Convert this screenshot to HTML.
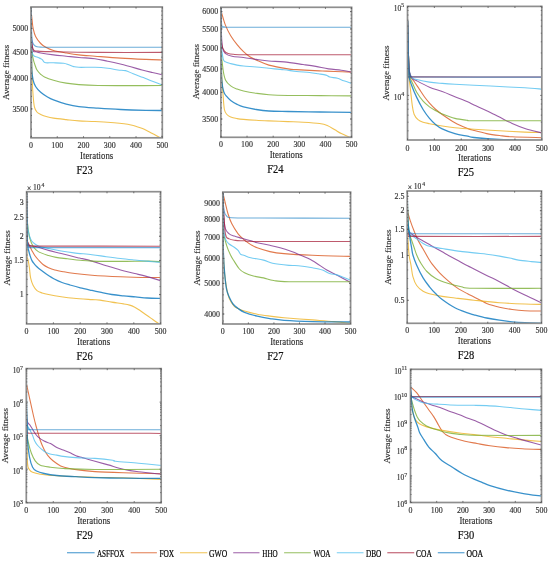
<!DOCTYPE html><html><head><meta charset="utf-8"><style>html,body{margin:0;padding:0;background:#fff;}svg{display:block;}text[fill="#333"]{stroke:#333;stroke-width:0.15px;}</style></head><body>
<svg width="550" height="561" viewBox="0 0 550 561" font-family="'Liberation Serif','Times New Roman',serif">
<rect width="550" height="561" fill="#fff"/><g>
<g><clipPath id="cF23"><rect x="31.00" y="7.00" width="131.30" height="130.80"/></clipPath><g clip-path="url(#cF23)" fill="none" stroke-width="1.1" stroke-opacity="0.78" stroke-linejoin="round" stroke-linecap="round"><path d="M31.00,6.00 C31.05,7.05 31.10,9.80 31.30,12.30 C31.50,14.80 31.90,18.35 32.20,21.00 C32.50,23.65 32.53,25.62 33.10,28.20 C33.67,30.78 34.33,33.95 35.60,36.50 C36.87,39.05 39.00,41.70 40.70,43.50 C42.40,45.30 43.67,46.13 45.80,47.30 C47.93,48.47 50.10,49.55 53.50,50.50 C56.90,51.45 61.97,52.27 66.20,53.00 C70.43,53.73 74.10,54.37 78.90,54.90 C83.70,55.43 88.07,55.67 95.00,56.20 C101.93,56.73 112.02,57.57 120.50,58.10 C128.98,58.63 138.90,59.08 145.90,59.40 C152.90,59.72 159.73,59.90 162.50,60.00" stroke="#D95319"/><path d="M31.00,6.00 C31.08,13.33 31.30,37.67 31.50,50.00 C31.70,62.33 31.93,72.42 32.20,80.00 C32.47,87.58 32.73,91.02 33.10,95.50 C33.47,99.98 33.77,104.15 34.40,106.90 C35.03,109.65 35.85,110.73 36.90,112.00 C37.95,113.27 39.00,113.70 40.70,114.50 C42.40,115.30 44.97,116.20 47.10,116.80 C49.23,117.40 50.32,117.63 53.50,118.10 C56.68,118.57 61.97,119.13 66.20,119.60 C70.43,120.07 74.10,120.58 78.90,120.90 C83.70,121.22 89.13,121.18 95.00,121.50 C100.87,121.82 109.27,122.42 114.10,122.80 C118.93,123.18 121.18,123.43 124.00,123.80 C126.82,124.17 128.83,124.52 131.00,125.00 C133.17,125.48 135.08,126.10 137.00,126.70 C138.92,127.30 140.75,127.88 142.50,128.60 C144.25,129.32 145.87,130.18 147.50,131.00 C149.13,131.82 150.72,132.67 152.30,133.50 C153.88,134.33 155.30,135.08 157.00,136.00 C158.70,136.92 161.58,138.50 162.50,139.00" stroke="#EDB120"/><path d="M31.00,6.00 C31.07,11.33 31.05,30.58 31.40,38.00 C31.75,45.42 32.40,48.22 33.10,50.50 C33.80,52.78 34.33,51.28 35.60,51.70 C36.87,52.12 37.72,52.47 40.70,53.00 C43.68,53.53 49.25,54.37 53.50,54.90 C57.75,55.43 61.97,55.77 66.20,56.20 C70.43,56.63 74.10,57.08 78.90,57.50 C83.70,57.92 90.20,58.07 95.00,58.70 C99.80,59.33 102.40,60.13 107.70,61.30 C113.00,62.47 121.07,64.25 126.80,65.70 C132.53,67.15 137.85,68.87 142.10,70.00 C146.35,71.13 148.90,71.70 152.30,72.50 C155.70,73.30 160.80,74.42 162.50,74.80" stroke="#7E2F8E"/><path d="M31.00,6.00 C31.07,12.50 31.07,36.33 31.40,45.00 C31.73,53.67 32.40,54.67 33.00,58.00 C33.60,61.33 34.33,63.00 35.00,65.00 C35.67,67.00 36.05,68.45 37.00,70.00 C37.95,71.55 39.45,73.13 40.70,74.30 C41.95,75.47 42.37,76.02 44.50,77.00 C46.63,77.98 49.88,79.18 53.50,80.20 C57.12,81.22 61.97,82.37 66.20,83.10 C70.43,83.83 73.60,84.20 78.90,84.60 C84.20,85.00 89.48,85.33 98.00,85.50 C106.52,85.67 119.25,85.60 130.00,85.60 C140.75,85.60 157.08,85.52 162.50,85.50" stroke="#77AC30"/><path d="M31.00,6.00 C31.05,12.50 30.95,36.85 31.30,45.00 C31.65,53.15 31.95,52.82 33.10,54.90 C34.25,56.98 36.93,56.87 38.20,57.50 C39.47,58.13 39.97,58.28 40.70,58.70 C41.43,59.12 42.07,59.47 42.60,60.00 C43.13,60.53 43.37,61.43 43.90,61.90 C44.43,62.37 44.20,62.65 45.80,62.80 C47.40,62.95 50.53,62.73 53.50,62.80 C56.47,62.87 61.07,62.87 63.60,63.20 C66.13,63.53 67.00,64.23 68.70,64.80 C70.40,65.37 72.10,66.18 73.80,66.60 C75.50,67.02 75.37,67.18 78.90,67.30 C82.43,67.42 90.20,67.13 95.00,67.30 C99.80,67.47 103.88,67.85 107.70,68.30 C111.52,68.75 114.93,69.62 117.90,70.00 C120.87,70.38 122.95,69.97 125.50,70.60 C128.05,71.23 130.22,72.63 133.20,73.80 C136.18,74.97 140.43,76.43 143.40,77.60 C146.37,78.77 147.82,79.57 151.00,80.80 C154.18,82.03 160.58,84.30 162.50,85.00" stroke="#4DBEEE"/><path d="M31.00,6.00 C31.07,10.83 31.05,27.80 31.40,35.00 C31.75,42.20 31.97,46.52 33.10,49.20 C34.23,51.88 34.80,50.68 38.20,51.10 C41.60,51.52 43.53,51.48 53.50,51.70 C63.47,51.92 79.83,52.28 98.00,52.40 C116.17,52.52 151.75,52.40 162.50,52.40" stroke="#A2142F" stroke-opacity="0.7"/><path d="M31.00,6.00 C31.10,10.00 31.35,23.97 31.60,30.00 C31.85,36.03 31.83,39.48 32.50,42.20 C33.17,44.92 34.23,45.48 35.60,46.30 C36.97,47.12 36.63,46.93 40.70,47.10 C44.77,47.27 39.70,47.27 60.00,47.30 C80.30,47.33 145.42,47.30 162.50,47.30" stroke="#0072BD" stroke-opacity="0.58"/><path d="M31.00,6.00 C31.08,13.33 31.37,39.33 31.50,50.00 C31.63,60.67 31.53,64.97 31.80,70.00 C32.07,75.03 32.47,77.45 33.10,80.20 C33.73,82.95 34.33,84.48 35.60,86.50 C36.87,88.52 38.78,90.60 40.70,92.30 C42.62,94.00 44.97,95.43 47.10,96.70 C49.23,97.97 50.32,98.67 53.50,99.90 C56.68,101.13 61.97,102.97 66.20,104.10 C70.43,105.23 73.60,106.02 78.90,106.70 C84.20,107.38 91.07,107.73 98.00,108.20 C104.93,108.67 112.52,109.15 120.50,109.50 C128.48,109.85 138.90,110.13 145.90,110.30 C152.90,110.47 159.73,110.47 162.50,110.50" stroke="#0072BD" stroke-width="1.3" stroke-opacity="0.78"/></g><rect x="31.00" y="7.00" width="131.30" height="130.80" fill="none" stroke="#8e8e8e" stroke-width="1.7"/><text x="31.00" y="148.25" font-size="7.9" text-anchor="middle" fill="#333">0</text><text x="57.26" y="148.25" font-size="7.9" text-anchor="middle" fill="#333">100</text><text x="83.52" y="148.25" font-size="7.9" text-anchor="middle" fill="#333">200</text><text x="109.78" y="148.25" font-size="7.9" text-anchor="middle" fill="#333">300</text><text x="136.04" y="148.25" font-size="7.9" text-anchor="middle" fill="#333">400</text><text x="162.30" y="148.25" font-size="7.9" text-anchor="middle" fill="#333">500</text><text x="28.20" y="31.00" font-size="7.9" text-anchor="end" fill="#333">5000</text><text x="28.20" y="54.78" font-size="7.9" text-anchor="end" fill="#333">4500</text><text x="28.20" y="81.36" font-size="7.9" text-anchor="end" fill="#333">4000</text><text x="28.20" y="111.50" font-size="7.9" text-anchor="end" fill="#333">3500</text><path d="M31.00,137.80v-1.6M31.00,7.00v1.6M57.26,137.80v-1.6M57.26,7.00v1.6M83.52,137.80v-1.6M83.52,7.00v1.6M109.78,137.80v-1.6M109.78,7.00v1.6M136.04,137.80v-1.6M136.04,7.00v1.6M162.30,137.80v-1.6M162.30,7.00v1.6M31.00,28.40h1.6M162.30,28.40h-1.6M31.00,52.18h1.6M162.30,52.18h-1.6M31.00,78.76h1.6M162.30,78.76h-1.6M31.00,108.90h1.6M162.30,108.90h-1.6M31.00,136.29h1M162.30,136.29h-1M31.00,129.13h1M162.30,129.13h-1M31.00,122.18h1M162.30,122.18h-1M31.00,115.44h1M162.30,115.44h-1M31.00,108.90h1M162.30,108.90h-1M31.00,102.54h1M162.30,102.54h-1M31.00,96.36h1M162.30,96.36h-1M31.00,90.34h1M162.30,90.34h-1M31.00,84.48h1M162.30,84.48h-1M31.00,78.76h1M162.30,78.76h-1M31.00,73.19h1M162.30,73.19h-1M31.00,67.75h1M162.30,67.75h-1M31.00,62.44h1M162.30,62.44h-1M31.00,57.25h1M162.30,57.25h-1M31.00,52.18h1M162.30,52.18h-1M31.00,47.22h1M162.30,47.22h-1M31.00,42.37h1M162.30,42.37h-1M31.00,37.61h1M162.30,37.61h-1M31.00,32.96h1M162.30,32.96h-1M31.00,28.40h1M162.30,28.40h-1M31.00,23.93h1M162.30,23.93h-1M31.00,19.55h1M162.30,19.55h-1M31.00,15.25h1M162.30,15.25h-1M31.00,11.03h1M162.30,11.03h-1" stroke="#555" stroke-width="0.8" fill="none"/><text x="80.10" y="158.60" font-size="9.4" textLength="33.1" lengthAdjust="spacingAndGlyphs" fill="#2a2a2a" stroke="#2a2a2a" stroke-width="0.12">Iterations</text><text transform="translate(9.00,72.30) rotate(-90)" font-size="8.95" text-anchor="middle" fill="#333">Average fitness</text><text x="76.45" y="173.60" font-size="11.9" textLength="16.3" lengthAdjust="spacingAndGlyphs" fill="#111" stroke="#111" stroke-width="0.2">F23</text></g>
<g><clipPath id="cF24"><rect x="220.90" y="7.30" width="130.70" height="130.00"/></clipPath><g clip-path="url(#cF24)" fill="none" stroke-width="1.1" stroke-opacity="0.78" stroke-linejoin="round" stroke-linecap="round"><path d="M220.90,7.00 C220.95,7.67 220.83,9.17 221.20,11.00 C221.57,12.83 222.37,15.57 223.10,18.00 C223.83,20.43 224.33,22.63 225.60,25.60 C226.87,28.57 228.78,32.62 230.70,35.80 C232.62,38.98 234.97,42.05 237.10,44.70 C239.23,47.35 241.38,49.68 243.50,51.70 C245.62,53.72 247.68,55.42 249.80,56.80 C251.92,58.18 253.02,58.62 256.20,60.00 C259.38,61.38 263.60,63.62 268.90,65.10 C274.20,66.58 283.37,68.15 288.00,68.90 C292.63,69.65 293.12,69.35 296.70,69.60 C300.28,69.85 305.25,70.17 309.50,70.40 C313.75,70.63 317.97,70.82 322.20,71.00 C326.43,71.18 329.97,71.32 334.90,71.50 C339.83,71.68 348.98,72.00 351.80,72.10" stroke="#D95319"/><path d="M220.90,7.00 C220.95,15.83 221.05,48.43 221.20,60.00 C221.35,71.57 221.48,70.48 221.80,76.40 C222.12,82.32 222.67,89.98 223.10,95.50 C223.53,101.02 223.77,106.33 224.40,109.50 C225.03,112.67 225.85,113.23 226.90,114.50 C227.95,115.77 229.00,116.42 230.70,117.10 C232.40,117.78 234.97,118.22 237.10,118.60 C239.23,118.98 240.32,119.12 243.50,119.40 C246.68,119.68 251.97,120.05 256.20,120.30 C260.43,120.55 263.60,120.68 268.90,120.90 C274.20,121.12 282.30,121.38 288.00,121.60 C293.70,121.82 297.83,121.88 303.10,122.20 C308.37,122.52 315.57,122.97 319.60,123.50 C323.63,124.03 324.75,124.35 327.30,125.40 C329.85,126.45 332.57,128.43 334.90,129.80 C337.23,131.17 338.75,132.32 341.30,133.60 C343.85,134.88 348.42,136.68 350.20,137.50 C351.98,138.32 351.70,138.33 352.00,138.50" stroke="#EDB120"/><path d="M220.90,7.00 C220.97,10.83 221.03,23.17 221.30,30.00 C221.57,36.83 221.78,44.07 222.50,48.00 C223.22,51.93 224.02,52.23 225.60,53.60 C227.18,54.97 229.02,55.55 232.00,56.20 C234.98,56.85 239.47,56.97 243.50,57.50 C247.53,58.03 251.97,58.82 256.20,59.40 C260.43,59.98 264.27,60.58 268.90,61.00 C273.53,61.42 278.30,61.32 284.00,61.90 C289.70,62.48 297.80,63.75 303.10,64.50 C308.40,65.25 311.57,65.67 315.80,66.40 C320.03,67.13 324.25,68.27 328.50,68.90 C332.75,69.53 337.42,69.67 341.30,70.20 C345.18,70.73 350.05,71.78 351.80,72.10" stroke="#7E2F8E"/><path d="M220.90,7.00 C220.97,14.17 220.93,39.50 221.30,50.00 C221.67,60.50 222.38,64.97 223.10,70.00 C223.82,75.03 224.33,77.55 225.60,80.20 C226.87,82.85 228.78,84.42 230.70,85.90 C232.62,87.38 234.97,88.25 237.10,89.10 C239.23,89.95 240.32,90.30 243.50,91.00 C246.68,91.70 251.97,92.67 256.20,93.30 C260.43,93.93 263.60,94.43 268.90,94.80 C274.20,95.17 279.48,95.37 288.00,95.50 C296.52,95.63 309.37,95.53 320.00,95.60 C330.63,95.67 346.50,95.85 351.80,95.90" stroke="#77AC30"/><path d="M220.90,7.00 C220.95,12.87 220.83,33.58 221.20,42.20 C221.57,50.82 222.37,55.42 223.10,58.70 C223.83,61.98 224.33,61.08 225.60,61.90 C226.87,62.72 228.78,63.07 230.70,63.60 C232.62,64.13 234.97,64.70 237.10,65.10 C239.23,65.50 240.32,65.68 243.50,66.00 C246.68,66.32 251.97,66.62 256.20,67.00 C260.43,67.38 264.27,67.83 268.90,68.30 C273.53,68.77 279.37,69.27 284.00,69.80 C288.63,70.33 292.45,71.05 296.70,71.50 C300.95,71.95 305.88,72.12 309.50,72.50 C313.12,72.88 315.65,73.37 318.40,73.80 C321.15,74.23 324.10,74.57 326.00,75.10 C327.90,75.63 327.88,76.47 329.80,77.00 C331.72,77.53 335.17,77.67 337.50,78.30 C339.83,78.93 341.42,79.95 343.80,80.80 C346.18,81.65 350.47,82.97 351.80,83.40" stroke="#4DBEEE"/><path d="M220.90,7.00 C220.97,10.83 221.15,23.72 221.30,30.00 C221.45,36.28 221.28,41.18 221.80,44.70 C222.32,48.22 223.33,49.62 224.40,51.10 C225.47,52.58 226.72,53.07 228.20,53.60 C229.68,54.13 229.67,54.12 233.30,54.30 C236.93,54.48 230.25,54.63 250.00,54.70 C269.75,54.77 334.83,54.70 351.80,54.70" stroke="#A2142F" stroke-opacity="0.7"/><path d="M220.90,7.00 C220.97,8.33 221.15,11.90 221.30,15.00 C221.45,18.10 221.28,23.62 221.80,25.60 C222.32,27.58 223.03,26.63 224.40,26.90 C225.77,27.17 208.77,27.13 230.00,27.20 C251.23,27.27 331.50,27.28 351.80,27.30" stroke="#0072BD" stroke-opacity="0.58"/><path d="M220.90,7.00 C220.95,15.83 221.05,47.80 221.20,60.00 C221.35,72.20 221.38,74.93 221.80,80.20 C222.22,85.47 222.85,88.85 223.70,91.60 C224.55,94.35 225.73,95.22 226.90,96.70 C228.07,98.18 229.00,99.22 230.70,100.50 C232.40,101.78 234.97,103.33 237.10,104.40 C239.23,105.47 240.32,106.05 243.50,106.90 C246.68,107.75 251.97,108.82 256.20,109.50 C260.43,110.18 263.60,110.67 268.90,111.00 C274.20,111.33 279.48,111.33 288.00,111.50 C296.52,111.67 309.37,111.87 320.00,112.00 C330.63,112.13 346.50,112.25 351.80,112.30" stroke="#0072BD" stroke-width="1.3" stroke-opacity="0.78"/></g><rect x="220.90" y="7.30" width="130.70" height="130.00" fill="none" stroke="#8e8e8e" stroke-width="1.7"/><text x="220.90" y="147.05" font-size="7.9" text-anchor="middle" fill="#333">0</text><text x="247.04" y="147.05" font-size="7.9" text-anchor="middle" fill="#333">100</text><text x="273.18" y="147.05" font-size="7.9" text-anchor="middle" fill="#333">200</text><text x="299.32" y="147.05" font-size="7.9" text-anchor="middle" fill="#333">300</text><text x="325.46" y="147.05" font-size="7.9" text-anchor="middle" fill="#333">400</text><text x="351.60" y="147.05" font-size="7.9" text-anchor="middle" fill="#333">500</text><text x="218.10" y="14.20" font-size="7.9" text-anchor="end" fill="#333">6000</text><text x="218.10" y="31.54" font-size="7.9" text-anchor="end" fill="#333">5500</text><text x="218.10" y="50.53" font-size="7.9" text-anchor="end" fill="#333">5000</text><text x="218.10" y="71.53" font-size="7.9" text-anchor="end" fill="#333">4500</text><text x="218.10" y="95.00" font-size="7.9" text-anchor="end" fill="#333">4000</text><text x="218.10" y="121.61" font-size="7.9" text-anchor="end" fill="#333">3500</text><path d="M220.90,137.30v-1.6M220.90,7.30v1.6M247.04,137.30v-1.6M247.04,7.30v1.6M273.18,137.30v-1.6M273.18,7.30v1.6M299.32,137.30v-1.6M299.32,7.30v1.6M325.46,137.30v-1.6M325.46,7.30v1.6M351.60,137.30v-1.6M351.60,7.30v1.6M220.90,11.60h1.6M351.60,11.60h-1.6M220.90,28.94h1.6M351.60,28.94h-1.6M220.90,47.93h1.6M351.60,47.93h-1.6M220.90,68.93h1.6M351.60,68.93h-1.6M220.90,92.40h1.6M351.60,92.40h-1.6M220.90,119.01h1.6M351.60,119.01h-1.6M220.90,136.87h1M351.60,136.87h-1M220.90,130.74h1M351.60,130.74h-1M220.90,124.79h1M351.60,124.79h-1M220.90,119.01h1M351.60,119.01h-1M220.90,113.40h1M351.60,113.40h-1M220.90,107.94h1M351.60,107.94h-1M220.90,102.62h1M351.60,102.62h-1M220.90,97.45h1M351.60,97.45h-1M220.90,92.40h1M351.60,92.40h-1M220.90,87.48h1M351.60,87.48h-1M220.90,82.68h1M351.60,82.68h-1M220.90,77.99h1M351.60,77.99h-1M220.90,73.41h1M351.60,73.41h-1M220.90,68.93h1M351.60,68.93h-1M220.90,64.55h1M351.60,64.55h-1M220.90,60.26h1M351.60,60.26h-1M220.90,56.07h1M351.60,56.07h-1M220.90,51.96h1M351.60,51.96h-1M220.90,47.93h1M351.60,47.93h-1M220.90,43.99h1M351.60,43.99h-1M220.90,40.12h1M351.60,40.12h-1M220.90,36.32h1M351.60,36.32h-1M220.90,32.60h1M351.60,32.60h-1M220.90,28.94h1M351.60,28.94h-1M220.90,25.35h1M351.60,25.35h-1M220.90,21.82h1M351.60,21.82h-1M220.90,18.36h1M351.60,18.36h-1M220.90,14.95h1M351.60,14.95h-1M220.90,11.60h1M351.60,11.60h-1M220.90,8.31h1M351.60,8.31h-1" stroke="#555" stroke-width="0.8" fill="none"/><text x="269.70" y="157.80" font-size="9.4" textLength="33.1" lengthAdjust="spacingAndGlyphs" fill="#2a2a2a" stroke="#2a2a2a" stroke-width="0.12">Iterations</text><text transform="translate(199.00,71.60) rotate(-90)" font-size="8.95" text-anchor="middle" fill="#333">Average fitness</text><text x="267.15" y="172.70" font-size="11.9" textLength="16.3" lengthAdjust="spacingAndGlyphs" fill="#111" stroke="#111" stroke-width="0.2">F24</text></g>
<g><clipPath id="cF25"><rect x="407.50" y="6.40" width="134.30" height="133.60"/></clipPath><g clip-path="url(#cF25)" fill="none" stroke-width="1.1" stroke-opacity="0.78" stroke-linejoin="round" stroke-linecap="round"><path d="M407.60,21.00 C407.72,25.83 408.03,41.83 408.30,50.00 C408.57,58.17 408.85,65.60 409.20,70.00 C409.55,74.40 409.57,74.48 410.40,76.40 C411.23,78.32 412.72,79.38 414.20,81.50 C415.68,83.62 417.60,86.57 419.30,89.10 C421.00,91.63 422.70,94.37 424.40,96.70 C426.10,99.03 427.60,100.97 429.50,103.10 C431.40,105.23 433.68,107.60 435.80,109.50 C437.92,111.40 439.02,112.28 442.20,114.50 C445.38,116.72 450.67,120.47 454.90,122.80 C459.13,125.13 464.42,127.22 467.60,128.50 C470.78,129.78 470.82,129.65 474.00,130.50 C477.18,131.35 482.45,132.77 486.70,133.60 C490.95,134.43 495.25,134.97 499.50,135.50 C503.75,136.03 505.12,136.43 512.20,136.80 C519.28,137.17 537.03,137.55 542.00,137.70" stroke="#D95319"/><path d="M407.60,21.00 C407.68,25.83 407.95,41.42 408.10,50.00 C408.25,58.58 408.12,65.98 408.50,72.50 C408.88,79.02 409.77,83.58 410.40,89.10 C411.03,94.62 411.67,101.37 412.30,105.60 C412.93,109.83 413.25,112.17 414.20,114.50 C415.15,116.83 416.52,118.32 418.00,119.60 C419.48,120.88 421.18,121.52 423.10,122.20 C425.02,122.88 426.32,123.07 429.50,123.70 C432.68,124.33 437.97,125.33 442.20,126.00 C446.43,126.67 449.60,127.17 454.90,127.70 C460.20,128.23 466.57,128.68 474.00,129.20 C481.43,129.72 491.02,130.32 499.50,130.80 C507.98,131.28 517.82,131.80 524.90,132.10 C531.98,132.40 539.15,132.52 542.00,132.60" stroke="#EDB120"/><path d="M407.60,21.00 C407.72,25.83 408.03,41.83 408.30,50.00 C408.57,58.17 408.65,65.40 409.20,70.00 C409.75,74.60 410.35,75.80 411.60,77.60 C412.85,79.40 413.72,79.20 416.70,80.80 C419.68,82.40 425.25,85.40 429.50,87.20 C433.75,89.00 437.97,90.02 442.20,91.60 C446.43,93.18 450.67,95.00 454.90,96.70 C459.13,98.40 464.42,100.42 467.60,101.80 C470.78,103.18 470.82,103.52 474.00,105.00 C477.18,106.48 482.45,108.68 486.70,110.70 C490.95,112.72 495.25,114.97 499.50,117.10 C503.75,119.23 507.97,121.60 512.20,123.50 C516.43,125.40 519.93,126.92 524.90,128.50 C529.87,130.08 539.15,132.25 542.00,133.00" stroke="#7E2F8E"/><path d="M407.60,21.00 C407.72,25.83 407.95,40.98 408.30,50.00 C408.65,59.02 408.93,69.43 409.70,75.10 C410.47,80.77 411.73,81.13 412.90,84.00 C414.07,86.87 415.00,89.43 416.70,92.30 C418.40,95.17 420.97,98.77 423.10,101.20 C425.23,103.63 427.38,105.32 429.50,106.90 C431.62,108.48 433.68,109.53 435.80,110.70 C437.92,111.87 439.02,112.62 442.20,113.90 C445.38,115.18 450.67,117.33 454.90,118.40 C459.13,119.47 464.42,119.92 467.60,120.30 C470.78,120.68 461.60,120.63 474.00,120.70 C486.40,120.77 530.67,120.70 542.00,120.70" stroke="#77AC30"/><path d="M407.60,21.00 C407.72,25.83 408.03,41.83 408.30,50.00 C408.57,58.17 408.65,65.40 409.20,70.00 C409.75,74.60 410.35,76.02 411.60,77.60 C412.85,79.18 413.72,78.75 416.70,79.50 C419.68,80.25 425.25,81.45 429.50,82.10 C433.75,82.75 437.97,83.03 442.20,83.40 C446.43,83.77 449.60,84.00 454.90,84.30 C460.20,84.60 466.57,84.83 474.00,85.20 C481.43,85.57 491.02,86.07 499.50,86.50 C507.98,86.93 517.82,87.37 524.90,87.80 C531.98,88.23 539.15,88.88 542.00,89.10" stroke="#4DBEEE"/><path d="M407.60,21.00 C407.72,25.83 408.03,41.83 408.30,50.00 C408.57,58.17 408.83,65.63 409.20,70.00 C409.57,74.37 409.70,75.05 410.50,76.20 C411.30,77.35 392.08,76.77 414.00,76.90 C435.92,77.03 520.67,76.98 542.00,77.00" stroke="#A2142F" stroke-opacity="0.7"/><path d="M407.60,21.00 C407.72,25.83 408.03,41.83 408.30,50.00 C408.57,58.17 408.83,65.60 409.20,70.00 C409.57,74.40 409.70,75.23 410.50,76.40 C411.30,77.57 392.08,76.88 414.00,77.00 C435.92,77.12 520.67,77.08 542.00,77.10" stroke="#0072BD" stroke-opacity="0.58"/><path d="M407.60,21.00 C407.68,25.83 407.95,41.20 408.10,50.00 C408.25,58.80 407.92,67.92 408.50,73.80 C409.08,79.68 410.23,81.37 411.60,85.30 C412.97,89.23 414.78,93.37 416.70,97.40 C418.62,101.43 420.97,106.00 423.10,109.50 C425.23,113.00 427.38,115.87 429.50,118.40 C431.62,120.93 433.68,122.97 435.80,124.70 C437.92,126.43 439.02,127.32 442.20,128.80 C445.38,130.28 450.67,132.37 454.90,133.60 C459.13,134.83 464.42,135.55 467.60,136.20 C470.78,136.85 468.68,136.97 474.00,137.50 C479.32,138.03 488.17,138.90 499.50,139.40 C510.83,139.90 534.92,140.32 542.00,140.50" stroke="#0072BD" stroke-width="1.3" stroke-opacity="0.78"/></g><rect x="407.50" y="6.40" width="134.30" height="133.60" fill="none" stroke="#8e8e8e" stroke-width="1.7"/><text x="407.50" y="150.55" font-size="7.9" text-anchor="middle" fill="#333">0</text><text x="434.36" y="150.55" font-size="7.9" text-anchor="middle" fill="#333">100</text><text x="461.22" y="150.55" font-size="7.9" text-anchor="middle" fill="#333">200</text><text x="488.08" y="150.55" font-size="7.9" text-anchor="middle" fill="#333">300</text><text x="514.94" y="150.55" font-size="7.9" text-anchor="middle" fill="#333">400</text><text x="541.80" y="150.55" font-size="7.9" text-anchor="middle" fill="#333">500</text><text x="404.20" y="10.80" font-size="7.4" text-anchor="end" fill="#333">10<tspan font-size="5.9" dy="-3.4">5</tspan></text><text x="404.20" y="99.80" font-size="7.4" text-anchor="end" fill="#333">10<tspan font-size="5.9" dy="-3.4">4</tspan></text><path d="M407.50,140.00v-1.6M407.50,6.40v1.6M434.36,140.00v-1.6M434.36,6.40v1.6M461.22,140.00v-1.6M461.22,6.40v1.6M488.08,140.00v-1.6M488.08,6.40v1.6M514.94,140.00v-1.6M514.94,6.40v1.6M541.80,140.00v-1.6M541.80,6.40v1.6M407.50,6.40h1.6M541.80,6.40h-1.6M407.50,95.40h1.6M541.80,95.40h-1.6M407.50,130.82h1M541.80,130.82h-1M407.50,122.19h1M541.80,122.19h-1M407.50,115.14h1M541.80,115.14h-1M407.50,109.19h1M541.80,109.19h-1M407.50,104.02h1M541.80,104.02h-1M407.50,99.47h1M541.80,99.47h-1M407.50,68.61h1M541.80,68.61h-1M407.50,52.94h1M541.80,52.94h-1M407.50,41.82h1M541.80,41.82h-1M407.50,33.19h1M541.80,33.19h-1M407.50,26.14h1M541.80,26.14h-1M407.50,20.19h1M541.80,20.19h-1M407.50,15.02h1M541.80,15.02h-1M407.50,10.47h1M541.80,10.47h-1" stroke="#555" stroke-width="0.8" fill="none"/><text x="458.10" y="161.00" font-size="9.4" textLength="33.1" lengthAdjust="spacingAndGlyphs" fill="#2a2a2a" stroke="#2a2a2a" stroke-width="0.12">Iterations</text><text transform="translate(389.30,73.00) rotate(-90)" font-size="8.95" text-anchor="middle" fill="#333">Average fitness</text><text x="457.75" y="175.90" font-size="11.9" textLength="16.3" lengthAdjust="spacingAndGlyphs" fill="#111" stroke="#111" stroke-width="0.2">F25</text></g>
<g><clipPath id="cF26"><rect x="26.60" y="191.70" width="134.00" height="132.20"/></clipPath><g clip-path="url(#cF26)" fill="none" stroke-width="1.1" stroke-opacity="0.78" stroke-linejoin="round" stroke-linecap="round"><path d="M26.60,191.00 C26.62,196.67 26.62,216.98 26.70,225.00 C26.78,233.02 26.80,236.00 27.10,239.10 C27.40,242.20 27.97,242.23 28.50,243.60 C29.03,244.97 29.70,246.08 30.30,247.30 C30.90,248.52 31.35,249.53 32.10,250.90 C32.85,252.27 33.73,253.98 34.80,255.50 C35.87,257.02 37.13,258.50 38.50,260.00 C39.87,261.50 41.33,263.22 43.00,264.50 C44.67,265.78 46.53,266.78 48.50,267.70 C50.47,268.62 52.23,269.32 54.80,270.00 C57.37,270.68 60.87,271.27 63.90,271.80 C66.93,272.33 68.32,272.63 73.00,273.20 C77.68,273.77 84.08,274.62 92.00,275.20 C99.92,275.78 111.00,276.32 120.50,276.70 C130.00,277.08 142.25,277.37 149.00,277.50 C155.75,277.63 159.00,277.50 161.00,277.50" stroke="#D95319"/><path d="M26.60,191.00 C26.63,201.10 26.65,240.43 26.80,251.60 C26.95,262.77 27.28,256.60 27.50,258.00 C27.72,259.40 27.78,258.38 28.10,260.00 C28.42,261.62 28.98,264.72 29.40,267.70 C29.82,270.68 29.97,274.93 30.60,277.90 C31.23,280.87 32.13,283.38 33.20,285.50 C34.27,287.62 35.52,289.37 37.00,290.60 C38.48,291.83 40.18,292.25 42.10,292.90 C44.02,293.55 45.32,293.87 48.50,294.50 C51.68,295.13 56.97,296.07 61.20,296.70 C65.43,297.33 68.77,297.82 73.90,298.30 C79.03,298.78 87.65,299.30 92.00,299.60 C96.35,299.90 96.70,299.68 100.00,300.10 C103.30,300.52 107.87,301.47 111.80,302.10 C115.73,302.73 120.63,303.40 123.60,303.90 C126.57,304.40 127.82,304.60 129.60,305.10 C131.38,305.60 132.73,306.12 134.30,306.90 C135.87,307.68 137.23,308.62 139.00,309.80 C140.77,310.98 142.93,312.62 144.90,314.00 C146.87,315.38 148.83,316.73 150.80,318.10 C152.77,319.47 155.03,321.08 156.70,322.20 C158.37,323.32 160.12,324.37 160.80,324.80" stroke="#EDB120"/><path d="M26.60,191.00 C26.67,197.50 26.75,221.17 27.00,230.00 C27.25,238.83 26.65,241.25 28.10,244.00 C29.55,246.75 32.30,245.43 35.70,246.50 C39.10,247.57 44.25,249.23 48.50,250.40 C52.75,251.57 56.33,252.28 61.20,253.50 C66.07,254.72 74.52,256.92 77.70,257.70 C80.88,258.48 77.92,257.63 80.30,258.20 C82.68,258.77 87.67,259.85 92.00,261.10 C96.33,262.35 101.55,264.22 106.30,265.70 C111.05,267.18 115.75,268.70 120.50,270.00 C125.25,271.30 130.05,272.32 134.80,273.50 C139.55,274.68 144.63,275.88 149.00,277.10 C153.37,278.32 159.00,280.18 161.00,280.80" stroke="#7E2F8E"/><path d="M26.60,191.00 C26.63,194.75 26.55,207.22 26.80,213.50 C27.05,219.78 27.57,224.47 28.10,228.70 C28.63,232.93 29.15,235.93 30.00,238.90 C30.85,241.87 31.82,244.38 33.20,246.50 C34.58,248.62 35.75,250.10 38.30,251.60 C40.85,253.10 45.53,254.53 48.50,255.50 C51.47,256.47 52.93,256.85 56.10,257.40 C59.27,257.95 63.47,258.32 67.50,258.80 C71.53,259.28 76.22,259.92 80.30,260.30 C84.38,260.68 85.30,260.92 92.00,261.10 C98.70,261.28 111.00,261.40 120.50,261.40 C130.00,261.40 142.25,261.03 149.00,261.10 C155.75,261.17 159.00,261.68 161.00,261.80" stroke="#77AC30"/><path d="M26.60,191.00 C26.63,194.32 26.55,204.40 26.80,210.90 C27.05,217.40 27.47,225.33 28.10,230.00 C28.73,234.67 29.75,236.78 30.60,238.90 C31.45,241.02 31.92,241.53 33.20,242.70 C34.48,243.87 35.75,244.93 38.30,245.90 C40.85,246.87 44.68,247.65 48.50,248.50 C52.32,249.35 56.97,250.27 61.20,251.00 C65.43,251.73 68.77,252.28 73.90,252.90 C79.03,253.52 86.60,254.07 92.00,254.70 C97.40,255.33 101.55,256.07 106.30,256.70 C111.05,257.33 115.75,257.95 120.50,258.50 C125.25,259.05 130.05,259.52 134.80,260.00 C139.55,260.48 144.63,261.00 149.00,261.40 C153.37,261.80 159.00,262.23 161.00,262.40" stroke="#4DBEEE"/><path d="M26.60,191.00 C26.65,197.50 26.70,221.17 26.90,230.00 C27.10,238.83 27.28,241.37 27.80,244.00 C28.32,246.63 27.97,245.45 30.00,245.80 C32.03,246.15 18.17,246.03 40.00,246.10 C61.83,246.17 140.83,246.18 161.00,246.20" stroke="#A2142F" stroke-opacity="0.7"/><path d="M26.60,191.00 C26.67,198.33 26.68,225.83 27.00,235.00 C27.32,244.17 27.83,243.93 28.50,246.00 C29.17,248.07 29.08,247.13 31.00,247.40 C32.92,247.67 18.33,247.57 40.00,247.60 C61.67,247.63 140.83,247.60 161.00,247.60" stroke="#0072BD" stroke-opacity="0.58"/><path d="M26.60,191.00 C26.65,197.50 26.75,220.92 26.90,230.00 C27.05,239.08 27.23,242.17 27.50,245.50 C27.77,248.83 28.03,248.18 28.50,250.00 C28.97,251.82 29.70,254.58 30.30,256.40 C30.90,258.22 31.43,259.65 32.10,260.90 C32.77,262.15 33.55,262.98 34.30,263.90 C35.05,264.82 35.45,265.33 36.60,266.40 C37.75,267.47 39.53,269.00 41.20,270.30 C42.87,271.60 44.33,272.70 46.60,274.20 C48.87,275.70 52.23,277.92 54.80,279.30 C57.37,280.68 59.47,281.55 62.00,282.50 C64.53,283.45 66.95,284.12 70.00,285.00 C73.05,285.88 76.63,286.90 80.30,287.80 C83.97,288.70 88.72,289.68 92.00,290.40 C95.28,291.12 96.70,291.42 100.00,292.10 C103.30,292.78 107.87,293.87 111.80,294.50 C115.73,295.13 119.65,295.50 123.60,295.90 C127.55,296.30 131.55,296.55 135.50,296.90 C139.45,297.25 143.05,297.75 147.30,298.00 C151.55,298.25 158.72,298.33 161.00,298.40" stroke="#0072BD" stroke-width="1.3" stroke-opacity="0.78"/></g><rect x="26.60" y="191.70" width="134.00" height="132.20" fill="none" stroke="#8e8e8e" stroke-width="1.7"/><text x="26.60" y="333.95" font-size="7.9" text-anchor="middle" fill="#333">0</text><text x="53.40" y="333.95" font-size="7.9" text-anchor="middle" fill="#333">100</text><text x="80.20" y="333.95" font-size="7.9" text-anchor="middle" fill="#333">200</text><text x="107.00" y="333.95" font-size="7.9" text-anchor="middle" fill="#333">300</text><text x="133.80" y="333.95" font-size="7.9" text-anchor="middle" fill="#333">400</text><text x="160.60" y="333.95" font-size="7.9" text-anchor="middle" fill="#333">500</text><text x="23.80" y="204.70" font-size="7.9" text-anchor="end" fill="#333">3</text><text x="23.80" y="220.05" font-size="7.9" text-anchor="end" fill="#333">2.5</text><text x="23.80" y="238.84" font-size="7.9" text-anchor="end" fill="#333">2</text><text x="23.80" y="263.06" font-size="7.9" text-anchor="end" fill="#333">1.5</text><text x="23.80" y="297.20" font-size="7.9" text-anchor="end" fill="#333">1</text><path d="M26.60,323.90v-1.6M26.60,191.70v1.6M53.40,323.90v-1.6M53.40,191.70v1.6M80.20,323.90v-1.6M80.20,191.70v1.6M107.00,323.90v-1.6M107.00,191.70v1.6M133.80,323.90v-1.6M133.80,191.70v1.6M160.60,323.90v-1.6M160.60,191.70v1.6M26.60,202.10h1.6M160.60,202.10h-1.6M26.60,217.45h1.6M160.60,217.45h-1.6M26.60,236.24h1.6M160.60,236.24h-1.6M26.60,260.46h1.6M160.60,260.46h-1.6M26.60,294.60h1.6M160.60,294.60h-1.6M26.60,313.39h1M160.60,313.39h-1M26.60,303.47h1M160.60,303.47h-1M26.60,294.60h1M160.60,294.60h-1M26.60,286.58h1M160.60,286.58h-1M26.60,279.25h1M160.60,279.25h-1M26.60,272.51h1M160.60,272.51h-1M26.60,266.27h1M160.60,266.27h-1M26.60,260.46h1M160.60,260.46h-1M26.60,255.03h1M160.60,255.03h-1M26.60,249.92h1M160.60,249.92h-1M26.60,245.11h1M160.60,245.11h-1M26.60,240.56h1M160.60,240.56h-1M26.60,236.24h1M160.60,236.24h-1M26.60,232.13h1M160.60,232.13h-1M26.60,228.21h1M160.60,228.21h-1M26.60,224.47h1M160.60,224.47h-1M26.60,220.89h1M160.60,220.89h-1M26.60,217.45h1M160.60,217.45h-1M26.60,214.15h1M160.60,214.15h-1M26.60,210.97h1M160.60,210.97h-1M26.60,207.91h1M160.60,207.91h-1M26.60,204.95h1M160.60,204.95h-1M26.60,202.10h1M160.60,202.10h-1M26.60,199.34h1M160.60,199.34h-1M26.60,196.67h1M160.60,196.67h-1M26.60,194.08h1M160.60,194.08h-1" stroke="#555" stroke-width="0.8" fill="none"/><text x="26.90" y="191.00" font-size="7.4" fill="#333">&#215;</text><text x="32.90" y="189.90" font-size="7.6" fill="#333">10</text><text x="41.40" y="186.80" font-size="5.6" fill="#333">4</text><text x="77.05" y="344.60" font-size="9.4" textLength="33.1" lengthAdjust="spacingAndGlyphs" fill="#2a2a2a" stroke="#2a2a2a" stroke-width="0.12">Iterations</text><text transform="translate(10.00,257.90) rotate(-90)" font-size="8.95" text-anchor="middle" fill="#333">Average fitness</text><text x="76.55" y="359.50" font-size="11.9" textLength="16.3" lengthAdjust="spacingAndGlyphs" fill="#111" stroke="#111" stroke-width="0.2">F26</text></g>
<g><clipPath id="cF27"><rect x="222.80" y="192.10" width="127.80" height="131.90"/></clipPath><g clip-path="url(#cF27)" fill="none" stroke-width="1.1" stroke-opacity="0.78" stroke-linejoin="round" stroke-linecap="round"><path d="M222.80,192.00 C222.82,192.18 222.47,191.22 222.90,193.10 C223.33,194.98 224.57,199.90 225.40,203.30 C226.23,206.70 226.85,210.12 227.90,213.50 C228.95,216.88 230.00,220.22 231.70,223.60 C233.40,226.98 235.97,231.03 238.10,233.80 C240.23,236.57 242.38,238.40 244.50,240.20 C246.62,242.00 248.68,243.33 250.80,244.60 C252.92,245.87 254.02,246.63 257.20,247.80 C260.38,248.97 265.43,250.63 269.90,251.60 C274.37,252.57 276.90,252.98 284.00,253.60 C291.10,254.22 301.33,254.83 312.50,255.30 C323.67,255.77 344.58,256.22 351.00,256.40" stroke="#D95319"/><path d="M222.80,192.00 C222.87,198.33 223.08,219.50 223.20,230.00 C223.32,240.50 223.25,247.65 223.50,255.00 C223.75,262.35 224.18,268.58 224.70,274.10 C225.22,279.62 225.85,284.07 226.60,288.10 C227.35,292.13 227.92,295.23 229.20,298.30 C230.48,301.37 232.82,304.80 234.30,306.50 C235.78,308.20 236.40,307.75 238.10,308.50 C239.80,309.25 241.32,310.05 244.50,311.00 C247.68,311.95 252.97,313.35 257.20,314.20 C261.43,315.05 265.43,315.52 269.90,316.10 C274.37,316.68 276.90,317.07 284.00,317.70 C291.10,318.33 304.18,319.25 312.50,319.90 C320.82,320.55 327.48,321.00 333.90,321.60 C340.32,322.20 348.15,323.18 351.00,323.50" stroke="#EDB120"/><path d="M222.80,192.00 C222.92,195.58 223.07,207.38 223.50,213.50 C223.93,219.62 224.45,225.32 225.40,228.70 C226.35,232.08 227.72,232.57 229.20,233.80 C230.68,235.03 232.18,235.35 234.30,236.10 C236.42,236.85 239.15,237.52 241.90,238.30 C244.65,239.08 248.25,240.07 250.80,240.80 C253.35,241.53 254.02,241.95 257.20,242.70 C260.38,243.45 266.08,244.45 269.90,245.30 C273.72,246.15 276.48,246.75 280.10,247.80 C283.72,248.85 288.57,250.52 291.60,251.60 C294.63,252.68 294.82,252.78 298.30,254.30 C301.78,255.82 307.75,258.08 312.50,260.70 C317.25,263.32 322.52,267.50 326.80,270.00 C331.08,272.50 334.17,273.57 338.20,275.70 C342.23,277.83 348.87,281.62 351.00,282.80" stroke="#7E2F8E"/><path d="M222.80,192.00 C222.87,195.83 223.08,208.25 223.20,215.00 C223.32,221.75 222.93,227.45 223.50,232.50 C224.07,237.55 225.43,241.55 226.60,245.30 C227.77,249.05 229.22,252.32 230.50,255.00 C231.78,257.68 232.82,259.07 234.30,261.40 C235.78,263.73 237.70,267.10 239.40,269.00 C241.10,270.90 242.17,271.63 244.50,272.80 C246.83,273.97 250.23,275.15 253.40,276.00 C256.57,276.85 260.12,277.15 263.50,277.90 C266.88,278.65 269.45,279.87 273.70,280.50 C277.95,281.13 276.12,281.48 289.00,281.70 C301.88,281.92 340.67,281.78 351.00,281.80" stroke="#77AC30"/><path d="M222.80,192.00 C222.87,195.00 223.08,204.30 223.20,210.00 C223.32,215.70 223.13,221.38 223.50,226.20 C223.87,231.02 224.45,235.93 225.40,238.90 C226.35,241.87 227.72,242.62 229.20,244.00 C230.68,245.38 232.82,246.13 234.30,247.20 C235.78,248.27 237.05,249.23 238.10,250.40 C239.15,251.57 239.53,253.35 240.60,254.20 C241.67,255.05 242.80,254.90 244.50,255.50 C246.20,256.10 247.63,257.03 250.80,257.80 C253.97,258.57 259.88,259.18 263.50,260.10 C267.12,261.02 268.25,262.42 272.50,263.30 C276.75,264.18 284.70,265.00 289.00,265.40 C293.30,265.80 294.38,265.30 298.30,265.70 C302.22,266.10 308.47,267.08 312.50,267.80 C316.53,268.52 319.65,269.05 322.50,270.00 C325.35,270.95 327.22,272.68 329.60,273.50 C331.98,274.32 334.42,274.23 336.80,274.90 C339.18,275.57 341.53,276.60 343.90,277.50 C346.27,278.40 349.82,279.83 351.00,280.30" stroke="#4DBEEE"/><path d="M222.80,192.00 C222.92,194.52 223.07,200.13 223.50,207.10 C223.93,214.07 224.45,228.50 225.40,233.80 C226.35,239.10 227.52,237.80 229.20,238.90 C230.88,240.00 232.95,240.08 235.50,240.40 C238.05,240.72 240.88,240.62 244.50,240.80 C248.12,240.98 239.45,241.38 257.20,241.50 C274.95,241.62 335.37,241.50 351.00,241.50" stroke="#A2142F" stroke-opacity="0.7"/><path d="M222.80,192.00 C222.82,192.60 222.68,192.45 222.90,195.60 C223.12,198.75 223.48,207.50 224.10,210.90 C224.72,214.30 225.33,214.87 226.60,216.00 C227.87,217.13 226.13,217.37 231.70,217.70 C237.27,218.03 240.12,217.92 260.00,218.00 C279.88,218.08 335.83,218.17 351.00,218.20" stroke="#0072BD" stroke-opacity="0.58"/><path d="M222.80,192.00 C222.87,198.33 223.08,219.50 223.20,230.00 C223.32,240.50 223.25,247.65 223.50,255.00 C223.75,262.35 224.18,268.37 224.70,274.10 C225.22,279.83 225.85,285.58 226.60,289.40 C227.35,293.22 228.13,294.57 229.20,297.00 C230.27,299.43 231.52,302.08 233.00,304.00 C234.48,305.92 236.18,307.12 238.10,308.50 C240.02,309.88 241.32,311.03 244.50,312.30 C247.68,313.57 252.97,315.05 257.20,316.10 C261.43,317.15 265.43,317.88 269.90,318.60 C274.37,319.32 276.90,319.90 284.00,320.40 C291.10,320.90 301.33,321.33 312.50,321.60 C323.67,321.87 344.58,321.93 351.00,322.00" stroke="#0072BD" stroke-width="1.3" stroke-opacity="0.78"/></g><rect x="222.80" y="192.10" width="127.80" height="131.90" fill="none" stroke="#8e8e8e" stroke-width="1.7"/><text x="222.80" y="333.85" font-size="7.9" text-anchor="middle" fill="#333">0</text><text x="248.36" y="333.85" font-size="7.9" text-anchor="middle" fill="#333">100</text><text x="273.92" y="333.85" font-size="7.9" text-anchor="middle" fill="#333">200</text><text x="299.48" y="333.85" font-size="7.9" text-anchor="middle" fill="#333">300</text><text x="325.04" y="333.85" font-size="7.9" text-anchor="middle" fill="#333">400</text><text x="350.60" y="333.85" font-size="7.9" text-anchor="middle" fill="#333">500</text><text x="220.00" y="205.50" font-size="7.9" text-anchor="end" fill="#333">9000</text><text x="220.00" y="221.64" font-size="7.9" text-anchor="end" fill="#333">8000</text><text x="220.00" y="239.93" font-size="7.9" text-anchor="end" fill="#333">7000</text><text x="220.00" y="261.05" font-size="7.9" text-anchor="end" fill="#333">6000</text><text x="220.00" y="286.03" font-size="7.9" text-anchor="end" fill="#333">5000</text><text x="220.00" y="316.60" font-size="7.9" text-anchor="end" fill="#333">4000</text><path d="M222.80,324.00v-1.6M222.80,192.10v1.6M248.36,324.00v-1.6M248.36,192.10v1.6M273.92,324.00v-1.6M273.92,192.10v1.6M299.48,324.00v-1.6M299.48,192.10v1.6M325.04,324.00v-1.6M325.04,192.10v1.6M350.60,324.00v-1.6M350.60,192.10v1.6M222.80,202.90h1.6M350.60,202.90h-1.6M222.80,219.04h1.6M350.60,219.04h-1.6M222.80,237.33h1.6M350.60,237.33h-1.6M222.80,258.45h1.6M350.60,258.45h-1.6M222.80,283.43h1.6M350.60,283.43h-1.6M222.80,314.00h1.6M350.60,314.00h-1.6M222.80,321.03h1M350.60,321.03h-1M222.80,314.00h1M350.60,314.00h-1M222.80,307.32h1M350.60,307.32h-1M222.80,300.94h1M350.60,300.94h-1M222.80,294.85h1M350.60,294.85h-1M222.80,289.02h1M350.60,289.02h-1M222.80,283.43h1M350.60,283.43h-1M222.80,278.06h1M350.60,278.06h-1M222.80,272.88h1M350.60,272.88h-1M222.80,267.90h1M350.60,267.90h-1M222.80,263.09h1M350.60,263.09h-1M222.80,258.45h1M350.60,258.45h-1M222.80,253.96h1M350.60,253.96h-1M222.80,249.61h1M350.60,249.61h-1M222.80,245.39h1M350.60,245.39h-1M222.80,241.30h1M350.60,241.30h-1M222.80,237.33h1M350.60,237.33h-1M222.80,233.47h1M350.60,233.47h-1M222.80,229.72h1M350.60,229.72h-1M222.80,226.06h1M350.60,226.06h-1M222.80,222.51h1M350.60,222.51h-1M222.80,219.04h1M350.60,219.04h-1M222.80,215.65h1M350.60,215.65h-1M222.80,212.35h1M350.60,212.35h-1M222.80,209.13h1M350.60,209.13h-1M222.80,205.98h1M350.60,205.98h-1M222.80,202.90h1M350.60,202.90h-1M222.80,199.89h1M350.60,199.89h-1M222.80,196.94h1M350.60,196.94h-1M222.80,194.06h1M350.60,194.06h-1" stroke="#555" stroke-width="0.8" fill="none"/><text x="270.15" y="344.80" font-size="9.4" textLength="33.1" lengthAdjust="spacingAndGlyphs" fill="#2a2a2a" stroke="#2a2a2a" stroke-width="0.12">Iterations</text><text transform="translate(200.00,258.00) rotate(-90)" font-size="8.95" text-anchor="middle" fill="#333">Average fitness</text><text x="267.25" y="359.70" font-size="11.9" textLength="16.3" lengthAdjust="spacingAndGlyphs" fill="#111" stroke="#111" stroke-width="0.2">F27</text></g>
<g><clipPath id="cF28"><rect x="407.20" y="191.00" width="134.30" height="132.30"/></clipPath><g clip-path="url(#cF28)" fill="none" stroke-width="1.1" stroke-opacity="0.78" stroke-linejoin="round" stroke-linecap="round"><path d="M407.20,190.00 C407.25,192.50 407.40,201.30 407.50,205.00 C407.60,208.70 407.32,209.52 407.80,212.20 C408.28,214.88 409.33,217.92 410.40,221.10 C411.47,224.28 412.93,228.12 414.20,231.30 C415.47,234.48 416.52,237.23 418.00,240.20 C419.48,243.17 421.40,246.13 423.10,249.10 C424.80,252.07 426.72,255.53 428.20,258.00 C429.68,260.47 430.10,261.43 432.00,263.90 C433.90,266.37 436.85,269.93 439.60,272.80 C442.35,275.67 445.52,278.55 448.50,281.10 C451.48,283.65 454.32,285.98 457.50,288.10 C460.68,290.22 464.85,292.32 467.60,293.80 C470.35,295.28 470.82,295.40 474.00,297.00 C477.18,298.60 482.45,301.70 486.70,303.40 C490.95,305.10 495.25,306.18 499.50,307.20 C503.75,308.22 507.97,308.92 512.20,309.50 C516.43,310.08 519.93,310.45 524.90,310.70 C529.87,310.95 539.15,310.95 542.00,311.00" stroke="#D95319"/><path d="M407.20,190.00 C407.27,195.83 407.50,217.27 407.60,225.00 C407.70,232.73 407.55,231.40 407.80,236.40 C408.05,241.40 408.57,250.20 409.10,255.00 C409.63,259.80 410.37,261.60 411.00,265.20 C411.63,268.80 411.95,273.22 412.90,276.60 C413.85,279.98 415.00,283.05 416.70,285.50 C418.40,287.95 420.97,289.92 423.10,291.30 C425.23,292.68 426.32,292.95 429.50,293.80 C432.68,294.65 437.97,295.70 442.20,296.40 C446.43,297.10 449.60,297.37 454.90,298.00 C460.20,298.63 466.57,299.42 474.00,300.20 C481.43,300.98 491.02,302.07 499.50,302.70 C507.98,303.33 517.82,303.72 524.90,304.00 C531.98,304.28 539.15,304.33 542.00,304.40" stroke="#EDB120"/><path d="M407.20,190.00 C407.25,195.00 407.40,213.12 407.50,220.00 C407.60,226.88 407.12,228.97 407.80,231.30 C408.48,233.63 410.12,233.00 411.60,234.00 C413.08,235.00 414.78,236.13 416.70,237.30 C418.62,238.47 420.97,239.78 423.10,241.00 C425.23,242.22 427.38,243.40 429.50,244.60 C431.62,245.80 433.68,247.00 435.80,248.20 C437.92,249.40 440.08,250.60 442.20,251.80 C444.32,253.00 445.95,253.98 448.50,255.40 C451.05,256.82 454.32,258.57 457.50,260.30 C460.68,262.03 464.85,264.35 467.60,265.80 C470.35,267.25 470.82,267.40 474.00,269.00 C477.18,270.60 482.45,273.28 486.70,275.40 C490.95,277.52 495.25,279.48 499.50,281.70 C503.75,283.92 507.97,286.47 512.20,288.70 C516.43,290.93 519.93,292.68 524.90,295.10 C529.87,297.52 539.15,301.85 542.00,303.20" stroke="#7E2F8E"/><path d="M407.20,190.00 C407.30,193.92 407.48,206.42 407.80,213.50 C408.12,220.58 408.47,228.05 409.10,232.50 C409.73,236.95 410.75,237.65 411.60,240.20 C412.45,242.75 413.35,245.33 414.20,247.80 C415.05,250.27 415.65,252.53 416.70,255.00 C417.75,257.47 418.80,259.85 420.50,262.60 C422.20,265.35 424.35,268.85 426.90,271.50 C429.45,274.15 432.20,276.48 435.80,278.50 C439.40,280.52 444.25,282.22 448.50,283.60 C452.75,284.98 457.05,286.02 461.30,286.80 C465.55,287.58 460.55,288.05 474.00,288.30 C487.45,288.55 530.67,288.30 542.00,288.30" stroke="#77AC30"/><path d="M407.20,190.00 C407.25,194.17 407.40,208.33 407.50,215.00 C407.60,221.67 407.12,226.65 407.80,230.00 C408.48,233.35 410.12,233.62 411.60,235.10 C413.08,236.58 414.78,237.52 416.70,238.90 C418.62,240.28 420.97,242.17 423.10,243.40 C425.23,244.63 426.32,245.45 429.50,246.30 C432.68,247.15 437.97,247.78 442.20,248.50 C446.43,249.22 449.60,249.87 454.90,250.60 C460.20,251.33 468.70,252.30 474.00,252.90 C479.30,253.50 482.45,253.67 486.70,254.20 C490.95,254.73 495.68,255.47 499.50,256.10 C503.32,256.73 506.43,257.33 509.60,258.00 C512.77,258.67 514.88,259.50 518.50,260.10 C522.12,260.70 527.38,261.18 531.30,261.60 C535.22,262.02 540.22,262.43 542.00,262.60" stroke="#4DBEEE"/><path d="M407.20,190.00 C407.23,195.83 407.27,217.83 407.40,225.00 C407.53,232.17 407.50,231.23 408.00,233.00 C408.50,234.77 409.23,235.03 410.40,235.60 C411.57,236.17 393.07,236.27 415.00,236.40 C436.93,236.53 520.83,236.40 542.00,236.40" stroke="#A2142F" stroke-opacity="0.7"/><path d="M407.20,190.00 C407.27,194.17 407.50,208.97 407.60,215.00 C407.70,221.03 407.45,223.38 407.80,226.20 C408.15,229.02 408.63,230.67 409.70,231.90 C410.77,233.13 410.82,233.28 414.20,233.60 C417.58,233.92 408.70,233.77 430.00,233.80 C451.30,233.83 523.33,233.80 542.00,233.80" stroke="#0072BD" stroke-opacity="0.58"/><path d="M407.20,190.00 C407.25,192.50 407.40,200.03 407.50,205.00 C407.60,209.97 407.43,214.57 407.80,219.80 C408.17,225.03 409.07,231.73 409.70,236.40 C410.33,241.07 411.07,244.70 411.60,247.80 C412.13,250.90 412.05,252.10 412.90,255.00 C413.75,257.90 415.00,261.38 416.70,265.20 C418.40,269.02 420.97,274.30 423.10,277.90 C425.23,281.50 427.38,284.15 429.50,286.80 C431.62,289.45 433.68,291.68 435.80,293.80 C437.92,295.92 439.02,297.17 442.20,299.50 C445.38,301.83 450.67,305.57 454.90,307.80 C459.13,310.03 464.42,311.73 467.60,312.90 C470.78,314.07 470.82,313.95 474.00,314.80 C477.18,315.65 482.45,317.10 486.70,318.00 C490.95,318.90 495.25,319.57 499.50,320.20 C503.75,320.83 507.97,321.38 512.20,321.80 C516.43,322.22 519.93,322.47 524.90,322.70 C529.87,322.93 539.15,323.12 542.00,323.20" stroke="#0072BD" stroke-width="1.3" stroke-opacity="0.78"/></g><rect x="407.20" y="191.00" width="134.30" height="132.30" fill="none" stroke="#8e8e8e" stroke-width="1.7"/><text x="407.20" y="333.35" font-size="7.9" text-anchor="middle" fill="#333">0</text><text x="434.06" y="333.35" font-size="7.9" text-anchor="middle" fill="#333">100</text><text x="460.92" y="333.35" font-size="7.9" text-anchor="middle" fill="#333">200</text><text x="487.78" y="333.35" font-size="7.9" text-anchor="middle" fill="#333">300</text><text x="514.64" y="333.35" font-size="7.9" text-anchor="middle" fill="#333">400</text><text x="541.50" y="333.35" font-size="7.9" text-anchor="middle" fill="#333">500</text><text x="404.40" y="198.85" font-size="7.9" text-anchor="end" fill="#333">2.5</text><text x="404.40" y="213.28" font-size="7.9" text-anchor="end" fill="#333">2</text><text x="404.40" y="231.87" font-size="7.9" text-anchor="end" fill="#333">1.5</text><text x="404.40" y="258.09" font-size="7.9" text-anchor="end" fill="#333">1</text><text x="404.40" y="302.90" font-size="7.9" text-anchor="end" fill="#333">0.5</text><path d="M407.20,323.30v-1.6M407.20,191.00v1.6M434.06,323.30v-1.6M434.06,191.00v1.6M460.92,323.30v-1.6M460.92,191.00v1.6M487.78,323.30v-1.6M487.78,191.00v1.6M514.64,323.30v-1.6M514.64,191.00v1.6M541.50,323.30v-1.6M541.50,191.00v1.6M407.20,196.25h1.6M541.50,196.25h-1.6M407.20,210.68h1.6M541.50,210.68h-1.6M407.20,229.27h1.6M541.50,229.27h-1.6M407.20,255.49h1.6M541.50,255.49h-1.6M407.20,300.30h1.6M541.50,300.30h-1.6M407.20,314.73h1M541.50,314.73h-1M407.20,300.30h1M541.50,300.30h-1M407.20,288.51h1M541.50,288.51h-1M407.20,278.55h1M541.50,278.55h-1M407.20,269.91h1M541.50,269.91h-1M407.20,262.30h1M541.50,262.30h-1M407.20,255.49h1M541.50,255.49h-1M407.20,249.33h1M541.50,249.33h-1M407.20,243.70h1M541.50,243.70h-1M407.20,238.53h1M541.50,238.53h-1M407.20,233.74h1M541.50,233.74h-1M407.20,229.27h1M541.50,229.27h-1M407.20,225.10h1M541.50,225.10h-1M407.20,221.18h1M541.50,221.18h-1M407.20,217.49h1M541.50,217.49h-1M407.20,213.99h1M541.50,213.99h-1M407.20,210.68h1M541.50,210.68h-1M407.20,207.52h1M541.50,207.52h-1M407.20,204.51h1M541.50,204.51h-1M407.20,201.64h1M541.50,201.64h-1M407.20,198.89h1M541.50,198.89h-1M407.20,196.25h1M541.50,196.25h-1M407.20,193.71h1M541.50,193.71h-1" stroke="#555" stroke-width="0.8" fill="none"/><text x="407.70" y="190.40" font-size="7.4" fill="#333">&#215;</text><text x="413.70" y="189.30" font-size="7.6" fill="#333">10</text><text x="422.20" y="186.20" font-size="5.6" fill="#333">4</text><text x="457.80" y="344.20" font-size="9.4" textLength="33.1" lengthAdjust="spacingAndGlyphs" fill="#2a2a2a" stroke="#2a2a2a" stroke-width="0.12">Iterations</text><text transform="translate(390.70,257.20) rotate(-90)" font-size="8.95" text-anchor="middle" fill="#333">Average fitness</text><text x="457.85" y="359.20" font-size="11.9" textLength="16.3" lengthAdjust="spacingAndGlyphs" fill="#111" stroke="#111" stroke-width="0.2">F28</text></g>
<g><clipPath id="cF29"><rect x="26.30" y="368.60" width="134.90" height="134.10"/></clipPath><g clip-path="url(#cF29)" fill="none" stroke-width="1.1" stroke-opacity="0.78" stroke-linejoin="round" stroke-linecap="round"><path d="M26.40,383.50 C27.55,388.75 31.62,407.63 33.30,415.00 C34.98,422.37 35.33,423.45 36.50,427.70 C37.67,431.95 39.03,436.88 40.30,440.50 C41.57,444.12 42.83,446.87 44.10,449.40 C45.37,451.93 46.42,453.80 47.90,455.70 C49.38,457.60 50.88,459.10 53.00,460.80 C55.12,462.50 57.85,464.62 60.60,465.90 C63.35,467.18 65.88,467.75 69.50,468.50 C73.12,469.25 78.05,469.88 82.30,470.40 C86.55,470.92 88.17,471.22 95.00,471.60 C101.83,471.98 112.22,472.33 123.30,472.70 C134.38,473.07 155.13,473.62 161.50,473.80" stroke="#D95319"/><path d="M26.40,405.00 C26.48,409.85 26.72,424.37 26.90,434.10 C27.08,443.83 27.07,457.47 27.50,463.40 C27.93,469.33 28.65,468.22 29.50,469.70 C30.35,471.18 30.80,471.55 32.60,472.30 C34.40,473.05 36.27,473.62 40.30,474.20 C44.33,474.78 47.68,475.30 56.80,475.80 C65.92,476.30 83.92,476.87 95.00,477.20 C106.08,477.53 112.22,477.43 123.30,477.80 C134.38,478.17 155.13,479.13 161.50,479.40" stroke="#EDB120"/><path d="M26.40,400.00 C26.48,403.35 26.28,415.90 26.90,420.10 C27.52,424.30 28.93,423.30 30.10,425.20 C31.27,427.10 32.63,429.60 33.90,431.50 C35.17,433.40 36.00,435.00 37.70,436.60 C39.40,438.20 41.97,439.93 44.10,441.10 C46.23,442.27 48.38,442.53 50.50,443.60 C52.62,444.67 54.68,446.43 56.80,447.50 C58.92,448.57 61.08,449.17 63.20,450.00 C65.32,450.83 67.38,451.55 69.50,452.50 C71.62,453.45 73.77,454.85 75.90,455.70 C78.03,456.55 80.18,456.97 82.30,457.60 C84.42,458.23 86.48,458.88 88.60,459.50 C90.72,460.12 91.73,460.40 95.00,461.30 C98.27,462.20 103.48,463.58 108.20,464.90 C112.92,466.22 118.25,468.05 123.30,469.20 C128.35,470.35 132.13,470.97 138.50,471.80 C144.87,472.63 157.67,473.80 161.50,474.20" stroke="#7E2F8E"/><path d="M26.40,400.00 C26.48,405.47 26.50,425.42 26.90,432.80 C27.30,440.18 28.05,440.90 28.80,444.30 C29.55,447.70 30.33,450.45 31.40,453.20 C32.47,455.95 33.72,458.78 35.20,460.80 C36.68,462.82 37.75,464.23 40.30,465.30 C42.85,466.37 46.68,466.67 50.50,467.20 C54.32,467.73 55.78,468.12 63.20,468.50 C70.62,468.88 78.62,469.37 95.00,469.50 C111.38,469.63 150.42,469.33 161.50,469.30" stroke="#77AC30"/><path d="M26.40,400.00 C26.48,403.77 26.28,417.55 26.90,422.60 C27.52,427.65 29.15,428.17 30.10,430.30 C31.05,432.43 31.87,433.70 32.60,435.40 C33.33,437.10 33.65,438.82 34.50,440.50 C35.35,442.18 36.10,443.70 37.70,445.50 C39.30,447.30 42.18,449.92 44.10,451.30 C46.02,452.68 47.08,453.17 49.20,453.80 C51.32,454.43 54.47,454.67 56.80,455.10 C59.13,455.53 60.02,455.98 63.20,456.40 C66.38,456.82 70.60,457.27 75.90,457.60 C81.20,457.93 88.87,457.97 95.00,458.40 C101.13,458.83 109.25,459.73 112.70,460.20 C116.15,460.67 111.40,460.70 115.70,461.20 C120.00,461.70 130.87,462.48 138.50,463.20 C146.13,463.92 157.67,465.12 161.50,465.50" stroke="#4DBEEE"/><path d="M26.40,405.00 C26.47,409.17 26.53,425.37 26.80,430.00 C27.07,434.63 27.13,432.25 28.00,432.80 C28.87,433.35 11.67,433.22 32.00,433.30 C52.33,433.38 128.42,433.20 150.00,433.30 C171.58,433.40 159.58,433.80 161.50,433.90" stroke="#A2142F" stroke-opacity="0.7"/><path d="M26.40,395.00 C26.47,399.17 26.53,414.42 26.80,420.00 C27.07,425.58 27.30,426.90 28.00,428.50 C28.70,430.10 29.00,429.38 31.00,429.60 C33.00,429.82 18.25,429.77 40.00,429.80 C61.75,429.83 141.25,429.80 161.50,429.80" stroke="#0072BD" stroke-opacity="0.58"/><path d="M26.40,377.70 C26.43,383.08 26.42,399.53 26.60,410.00 C26.78,420.47 27.02,432.67 27.50,440.50 C27.98,448.33 28.65,452.55 29.50,457.00 C30.35,461.45 31.43,464.87 32.60,467.20 C33.77,469.53 34.58,469.95 36.50,471.00 C38.42,472.05 40.72,472.75 44.10,473.50 C47.48,474.25 51.50,474.97 56.80,475.50 C62.10,476.03 69.53,476.35 75.90,476.70 C82.27,477.05 87.10,477.35 95.00,477.60 C102.90,477.85 112.22,478.08 123.30,478.20 C134.38,478.32 155.13,478.28 161.50,478.30" stroke="#0072BD" stroke-width="1.3" stroke-opacity="0.78"/></g><rect x="26.30" y="368.60" width="134.90" height="134.10" fill="none" stroke="#8e8e8e" stroke-width="1.7"/><text x="26.30" y="512.75" font-size="7.9" text-anchor="middle" fill="#333">0</text><text x="53.28" y="512.75" font-size="7.9" text-anchor="middle" fill="#333">100</text><text x="80.26" y="512.75" font-size="7.9" text-anchor="middle" fill="#333">200</text><text x="107.24" y="512.75" font-size="7.9" text-anchor="middle" fill="#333">300</text><text x="134.22" y="512.75" font-size="7.9" text-anchor="middle" fill="#333">400</text><text x="161.20" y="512.75" font-size="7.9" text-anchor="middle" fill="#333">500</text><text x="23.00" y="373.00" font-size="7.4" text-anchor="end" fill="#333">10<tspan font-size="5.9" dy="-3.4">7</tspan></text><text x="23.00" y="406.52" font-size="7.4" text-anchor="end" fill="#333">10<tspan font-size="5.9" dy="-3.4">6</tspan></text><text x="23.00" y="440.05" font-size="7.4" text-anchor="end" fill="#333">10<tspan font-size="5.9" dy="-3.4">5</tspan></text><text x="23.00" y="473.57" font-size="7.4" text-anchor="end" fill="#333">10<tspan font-size="5.9" dy="-3.4">4</tspan></text><text x="23.00" y="507.10" font-size="7.4" text-anchor="end" fill="#333">10<tspan font-size="5.9" dy="-3.4">3</tspan></text><path d="M26.30,502.70v-1.6M26.30,368.60v1.6M53.28,502.70v-1.6M53.28,368.60v1.6M80.26,502.70v-1.6M80.26,368.60v1.6M107.24,502.70v-1.6M107.24,368.60v1.6M134.22,502.70v-1.6M134.22,368.60v1.6M161.20,502.70v-1.6M161.20,368.60v1.6M26.30,368.60h1.6M161.20,368.60h-1.6M26.30,402.12h1.6M161.20,402.12h-1.6M26.30,435.65h1.6M161.20,435.65h-1.6M26.30,469.17h1.6M161.20,469.17h-1.6M26.30,502.70h1.6M161.20,502.70h-1.6M26.30,492.61h1M161.20,492.61h-1M26.30,486.70h1M161.20,486.70h-1M26.30,482.52h1M161.20,482.52h-1M26.30,479.27h1M161.20,479.27h-1M26.30,476.61h1M161.20,476.61h-1M26.30,474.37h1M161.20,474.37h-1M26.30,472.42h1M161.20,472.42h-1M26.30,470.71h1M161.20,470.71h-1M26.30,459.08h1M161.20,459.08h-1M26.30,453.18h1M161.20,453.18h-1M26.30,448.99h1M161.20,448.99h-1M26.30,445.74h1M161.20,445.74h-1M26.30,443.09h1M161.20,443.09h-1M26.30,440.84h1M161.20,440.84h-1M26.30,438.90h1M161.20,438.90h-1M26.30,437.18h1M161.20,437.18h-1M26.30,425.56h1M161.20,425.56h-1M26.30,419.65h1M161.20,419.65h-1M26.30,415.47h1M161.20,415.47h-1M26.30,412.22h1M161.20,412.22h-1M26.30,409.56h1M161.20,409.56h-1M26.30,407.32h1M161.20,407.32h-1M26.30,405.37h1M161.20,405.37h-1M26.30,403.66h1M161.20,403.66h-1M26.30,392.03h1M161.20,392.03h-1M26.30,386.13h1M161.20,386.13h-1M26.30,381.94h1M161.20,381.94h-1M26.30,378.69h1M161.20,378.69h-1M26.30,376.04h1M161.20,376.04h-1M26.30,373.79h1M161.20,373.79h-1M26.30,371.85h1M161.20,371.85h-1M26.30,370.13h1M161.20,370.13h-1" stroke="#555" stroke-width="0.8" fill="none"/><text x="77.20" y="523.80" font-size="9.4" textLength="33.1" lengthAdjust="spacingAndGlyphs" fill="#2a2a2a" stroke="#2a2a2a" stroke-width="0.12">Iterations</text><text transform="translate(8.20,435.60) rotate(-90)" font-size="8.95" text-anchor="middle" fill="#333">Average fitness</text><text x="76.55" y="538.80" font-size="11.9" textLength="16.3" lengthAdjust="spacingAndGlyphs" fill="#111" stroke="#111" stroke-width="0.2">F29</text></g>
<g><clipPath id="cF30"><rect x="410.50" y="369.30" width="131.00" height="133.20"/></clipPath><g clip-path="url(#cF30)" fill="none" stroke-width="1.1" stroke-opacity="0.78" stroke-linejoin="round" stroke-linecap="round"><path d="M410.50,386.80 C411.52,387.78 414.62,390.35 416.60,392.70 C418.58,395.05 420.47,398.18 422.40,400.90 C424.33,403.62 426.27,406.30 428.20,409.00 C430.13,411.70 432.27,414.40 434.00,417.10 C435.73,419.80 437.25,422.88 438.60,425.20 C439.95,427.52 440.95,429.47 442.10,431.00 C443.25,432.53 443.97,433.35 445.50,434.40 C447.03,435.45 448.05,436.17 451.30,437.30 C454.55,438.43 460.72,440.17 465.00,441.20 C469.28,442.23 472.83,442.73 477.00,443.50 C481.17,444.27 485.15,445.12 490.00,445.80 C494.85,446.48 500.73,447.12 506.10,447.60 C511.47,448.08 516.22,448.38 522.20,448.70 C528.18,449.02 538.70,449.37 542.00,449.50" stroke="#D95319"/><path d="M410.50,392.00 C410.55,392.97 410.53,395.13 410.80,397.80 C411.07,400.47 411.57,404.82 412.10,408.00 C412.63,411.18 413.15,414.57 414.00,416.90 C414.85,419.23 415.82,420.62 417.20,422.00 C418.58,423.38 419.75,424.13 422.30,425.20 C424.85,426.27 428.68,427.45 432.50,428.40 C436.32,429.35 440.97,430.17 445.20,430.90 C449.43,431.63 453.10,432.18 457.90,432.80 C462.70,433.42 468.65,433.95 474.00,434.60 C479.35,435.25 484.65,436.08 490.00,436.70 C495.35,437.32 500.73,437.77 506.10,438.30 C511.47,438.83 516.22,439.37 522.20,439.90 C528.18,440.43 538.70,441.23 542.00,441.50" stroke="#EDB120"/><path d="M410.50,394.00 C410.67,394.42 410.60,395.73 411.50,396.50 C412.40,397.27 414.25,397.80 415.90,398.60 C417.55,399.40 419.58,400.52 421.40,401.30 C423.22,402.08 424.87,402.60 426.80,403.30 C428.73,404.00 430.80,404.80 433.00,405.50 C435.20,406.20 437.40,406.60 440.00,407.50 C442.60,408.40 445.35,409.68 448.60,410.90 C451.85,412.12 456.27,413.58 459.50,414.80 C462.73,416.02 464.95,417.02 468.00,418.20 C471.05,419.38 474.58,420.53 477.80,421.90 C481.02,423.27 484.15,424.88 487.30,426.40 C490.45,427.92 493.55,429.58 496.70,431.00 C499.85,432.42 503.05,433.77 506.20,434.90 C509.35,436.03 512.45,436.85 515.60,437.80 C518.75,438.75 520.70,439.37 525.10,440.60 C529.50,441.83 539.18,444.43 542.00,445.20" stroke="#7E2F8E"/><path d="M410.50,392.00 C410.55,392.75 410.43,394.47 410.80,396.50 C411.17,398.53 412.07,401.87 412.70,404.20 C413.33,406.53 413.85,408.38 414.60,410.50 C415.35,412.62 416.35,415.20 417.20,416.90 C418.05,418.60 418.22,419.22 419.70,420.70 C421.18,422.18 423.97,424.52 426.10,425.80 C428.23,427.08 430.38,427.65 432.50,428.40 C434.62,429.15 436.68,429.67 438.80,430.30 C440.92,430.93 442.02,431.57 445.20,432.20 C448.38,432.83 452.60,433.58 457.90,434.10 C463.20,434.62 462.98,435.08 477.00,435.30 C491.02,435.52 531.17,435.38 542.00,435.40" stroke="#77AC30"/><path d="M410.50,392.00 C410.55,392.55 410.12,394.12 410.80,395.30 C411.48,396.48 413.12,398.05 414.60,399.10 C416.08,400.15 417.78,400.92 419.70,401.60 C421.62,402.28 422.92,402.77 426.10,403.20 C429.28,403.63 433.50,403.87 438.80,404.20 C444.10,404.53 452.03,405.02 457.90,405.20 C463.77,405.38 469.20,405.23 474.00,405.30 C478.80,405.37 482.45,405.40 486.70,405.60 C490.95,405.80 495.25,406.15 499.50,406.50 C503.75,406.85 507.97,407.28 512.20,407.70 C516.43,408.12 519.93,408.55 524.90,409.00 C529.87,409.45 539.15,410.17 542.00,410.40" stroke="#4DBEEE"/><path d="M410.50,390.00 C410.67,390.95 410.92,394.62 411.50,395.70 C412.08,396.78 392.25,396.37 414.00,396.50 C435.75,396.63 520.67,396.50 542.00,396.50" stroke="#A2142F" stroke-opacity="0.7"/><path d="M410.50,390.00 C410.67,391.05 410.92,395.12 411.50,396.30 C412.08,397.48 392.25,396.97 414.00,397.10 C435.75,397.23 520.67,397.10 542.00,397.10" stroke="#0072BD" stroke-opacity="0.58"/><path d="M410.50,385.10 C410.77,388.92 411.42,402.48 412.10,408.00 C412.78,413.52 413.65,415.02 414.60,418.20 C415.55,421.38 416.93,424.63 417.80,427.10 C418.67,429.57 418.82,430.95 419.80,433.00 C420.78,435.05 422.20,437.05 423.70,439.40 C425.20,441.75 426.87,444.75 428.80,447.10 C430.73,449.45 433.15,451.25 435.30,453.50 C437.45,455.75 438.92,458.35 441.70,460.60 C444.48,462.85 448.58,464.85 452.00,467.00 C455.42,469.15 458.53,471.47 462.20,473.50 C465.87,475.53 470.70,477.72 474.00,479.20 C477.30,480.68 479.33,481.33 482.00,482.40 C484.67,483.47 485.98,484.32 490.00,485.60 C494.02,486.88 500.73,488.82 506.10,490.10 C511.47,491.38 516.22,492.28 522.20,493.30 C528.18,494.32 538.70,495.72 542.00,496.20" stroke="#0072BD" stroke-width="1.3" stroke-opacity="0.78"/></g><rect x="410.50" y="369.30" width="131.00" height="133.20" fill="none" stroke="#8e8e8e" stroke-width="1.7"/><text x="410.50" y="512.75" font-size="7.9" text-anchor="middle" fill="#333">0</text><text x="436.70" y="512.75" font-size="7.9" text-anchor="middle" fill="#333">100</text><text x="462.90" y="512.75" font-size="7.9" text-anchor="middle" fill="#333">200</text><text x="489.10" y="512.75" font-size="7.9" text-anchor="middle" fill="#333">300</text><text x="515.30" y="512.75" font-size="7.9" text-anchor="middle" fill="#333">400</text><text x="541.50" y="512.75" font-size="7.9" text-anchor="middle" fill="#333">500</text><text x="407.20" y="373.70" font-size="7.4" text-anchor="end" fill="#333">10<tspan font-size="5.9" dy="-3.4">11</tspan></text><text x="407.20" y="400.34" font-size="7.4" text-anchor="end" fill="#333">10<tspan font-size="5.9" dy="-3.4">10</tspan></text><text x="407.20" y="426.98" font-size="7.4" text-anchor="end" fill="#333">10<tspan font-size="5.9" dy="-3.4">9</tspan></text><text x="407.20" y="453.62" font-size="7.4" text-anchor="end" fill="#333">10<tspan font-size="5.9" dy="-3.4">8</tspan></text><text x="407.20" y="480.26" font-size="7.4" text-anchor="end" fill="#333">10<tspan font-size="5.9" dy="-3.4">7</tspan></text><text x="407.20" y="506.90" font-size="7.4" text-anchor="end" fill="#333">10<tspan font-size="5.9" dy="-3.4">6</tspan></text><path d="M410.50,502.50v-1.6M410.50,369.30v1.6M436.70,502.50v-1.6M436.70,369.30v1.6M462.90,502.50v-1.6M462.90,369.30v1.6M489.10,502.50v-1.6M489.10,369.30v1.6M515.30,502.50v-1.6M515.30,369.30v1.6M541.50,502.50v-1.6M541.50,369.30v1.6M410.50,369.30h1.6M541.50,369.30h-1.6M410.50,395.94h1.6M541.50,395.94h-1.6M410.50,422.58h1.6M541.50,422.58h-1.6M410.50,449.22h1.6M541.50,449.22h-1.6M410.50,475.86h1.6M541.50,475.86h-1.6M410.50,502.50h1.6M541.50,502.50h-1.6M410.50,494.48h1M541.50,494.48h-1M410.50,489.79h1M541.50,489.79h-1M410.50,486.46h1M541.50,486.46h-1M410.50,483.88h1M541.50,483.88h-1M410.50,481.77h1M541.50,481.77h-1M410.50,479.99h1M541.50,479.99h-1M410.50,478.44h1M541.50,478.44h-1M410.50,477.08h1M541.50,477.08h-1M410.50,467.84h1M541.50,467.84h-1M410.50,463.15h1M541.50,463.15h-1M410.50,459.82h1M541.50,459.82h-1M410.50,457.24h1M541.50,457.24h-1M410.50,455.13h1M541.50,455.13h-1M410.50,453.35h1M541.50,453.35h-1M410.50,451.80h1M541.50,451.80h-1M410.50,450.44h1M541.50,450.44h-1M410.50,441.20h1M541.50,441.20h-1M410.50,436.51h1M541.50,436.51h-1M410.50,433.18h1M541.50,433.18h-1M410.50,430.60h1M541.50,430.60h-1M410.50,428.49h1M541.50,428.49h-1M410.50,426.71h1M541.50,426.71h-1M410.50,425.16h1M541.50,425.16h-1M410.50,423.80h1M541.50,423.80h-1M410.50,414.56h1M541.50,414.56h-1M410.50,409.87h1M541.50,409.87h-1M410.50,406.54h1M541.50,406.54h-1M410.50,403.96h1M541.50,403.96h-1M410.50,401.85h1M541.50,401.85h-1M410.50,400.07h1M541.50,400.07h-1M410.50,398.52h1M541.50,398.52h-1M410.50,397.16h1M541.50,397.16h-1M410.50,387.92h1M541.50,387.92h-1M410.50,383.23h1M541.50,383.23h-1M410.50,379.90h1M541.50,379.90h-1M410.50,377.32h1M541.50,377.32h-1M410.50,375.21h1M541.50,375.21h-1M410.50,373.43h1M541.50,373.43h-1M410.50,371.88h1M541.50,371.88h-1M410.50,370.52h1M541.50,370.52h-1" stroke="#555" stroke-width="0.8" fill="none"/><text x="459.45" y="523.80" font-size="9.4" textLength="33.1" lengthAdjust="spacingAndGlyphs" fill="#2a2a2a" stroke="#2a2a2a" stroke-width="0.12">Iterations</text><text transform="translate(390.00,436.00) rotate(-90)" font-size="8.95" text-anchor="middle" fill="#333">Average fitness</text><text x="457.85" y="538.80" font-size="11.9" textLength="16.3" lengthAdjust="spacingAndGlyphs" fill="#111" stroke="#111" stroke-width="0.2">F30</text></g>
<line x1="67.0" y1="552.7" x2="94.6" y2="552.7" stroke="#0072BD" stroke-opacity="0.6" stroke-width="1.3"/>
<text x="96.9" y="556.5" font-size="9.9" textLength="27.4" lengthAdjust="spacingAndGlyphs" fill="#000" stroke="#000" stroke-width="0.2">ASFFOX</text>
<line x1="130.7" y1="552.7" x2="156.9" y2="552.7" stroke="#D95319" stroke-opacity="0.6" stroke-width="1.3"/>
<text x="159.4" y="556.5" font-size="9.9" textLength="14.8" lengthAdjust="spacingAndGlyphs" fill="#000" stroke="#000" stroke-width="0.2">FOX</text>
<line x1="180.0" y1="552.7" x2="207.3" y2="552.7" stroke="#EDB120" stroke-opacity="0.6" stroke-width="1.3"/>
<text x="209.1" y="556.5" font-size="9.9" textLength="18.2" lengthAdjust="spacingAndGlyphs" fill="#000" stroke="#000" stroke-width="0.2">GWO</text>
<line x1="233.2" y1="552.7" x2="259.5" y2="552.7" stroke="#7E2F8E" stroke-opacity="0.6" stroke-width="1.3"/>
<text x="262.3" y="556.5" font-size="9.9" textLength="15.4" lengthAdjust="spacingAndGlyphs" fill="#000" stroke="#000" stroke-width="0.2">HHO</text>
<line x1="284.1" y1="552.7" x2="310.8" y2="552.7" stroke="#77AC30" stroke-opacity="0.6" stroke-width="1.3"/>
<text x="313.4" y="556.5" font-size="9.9" textLength="17.1" lengthAdjust="spacingAndGlyphs" fill="#000" stroke="#000" stroke-width="0.2">WOA</text>
<line x1="336.8" y1="552.7" x2="363.5" y2="552.7" stroke="#4DBEEE" stroke-opacity="0.6" stroke-width="1.3"/>
<text x="365.9" y="556.5" font-size="9.9" textLength="15.5" lengthAdjust="spacingAndGlyphs" fill="#000" stroke="#000" stroke-width="0.2">DBO</text>
<line x1="387.3" y1="552.7" x2="414.2" y2="552.7" stroke="#A2142F" stroke-opacity="0.6" stroke-width="1.3"/>
<text x="416.0" y="556.5" font-size="9.9" textLength="15.8" lengthAdjust="spacingAndGlyphs" fill="#000" stroke="#000" stroke-width="0.2">COA</text>
<line x1="437.8" y1="552.7" x2="464.5" y2="552.7" stroke="#0072BD" stroke-opacity="0.6" stroke-width="1.3"/>
<text x="466.5" y="556.5" font-size="9.9" textLength="16.6" lengthAdjust="spacingAndGlyphs" fill="#000" stroke="#000" stroke-width="0.2">OOA</text>
</g></svg></body></html>
